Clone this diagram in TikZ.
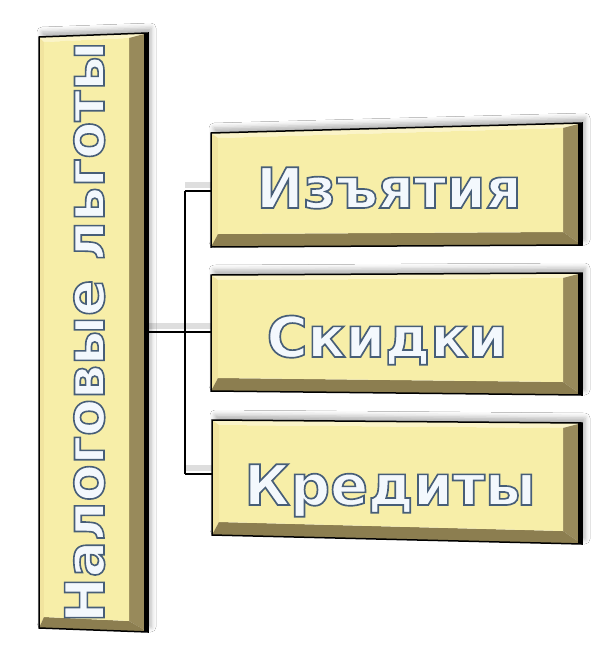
\documentclass[tikz,border=0pt]{standalone}
\usepackage{fontspec}
\setmainfont{DejaVu Sans}
\newfontfamily\olfont[FakeBold=3]{DejaVu Sans Bold}
\usetikzlibrary{calc,shadows.blur}
\definecolor{face}{HTML}{F7EEA8}
\definecolor{bevtop}{HTML}{FBF4C8}
\definecolor{bevleft}{HTML}{F1E49F}
\definecolor{bevright}{HTML}{988A5B}
\definecolor{bevbot}{HTML}{8C7E50}
\definecolor{txtfill}{HTML}{F3F8FD}
\newcommand\olstroke{\special{pdf:literal direct 0.28 0.37 0.47 RG}}
\tikzset{
  lbl/.style={inner sep=0pt, text=txtfill, font=\olfont\fontsize{56}{60}\selectfont},
  conn/.style={line width=1.8pt, black},
  connshadow/.style={line width=6pt, black!25, opacity=0.5},
  boxshadow/.style={blur shadow={shadow xshift=3pt, shadow yshift=5pt, shadow blur radius=5pt, shadow opacity=30}},
}
\newcommand\bevbox[9]{%
  \coordinate (#1-tl) at (#2); \coordinate (#1-tr) at (#3);
  \coordinate (#1-br) at (#4); \coordinate (#1-bl) at (#5);
  \coordinate (#1-itl) at ($(#1-tl)+(#6,#7)$);
  \coordinate (#1-itr) at ($(#1-tr)+(-#8,#7)$);
  \coordinate (#1-ibr) at ($(#1-br)+(-#8,-#9)$);
  \coordinate (#1-ibl) at ($(#1-bl)+(#6,-#9)$);
  \fill[white, boxshadow] (#1-tl)--(#1-tr)--(#1-br)--(#1-bl)--cycle;
  \fill[bevtop] (#1-tl)--(#1-tr)--(#1-itr)--(#1-itl)--cycle;
  \fill[bevleft] (#1-tl)--(#1-itl)--(#1-ibl)--(#1-bl)--cycle;
  \fill[bevright] (#1-tr)--(#1-br)--(#1-ibr)--(#1-itr)--cycle;
  \fill[bevbot] (#1-bl)--(#1-ibl)--(#1-ibr)--(#1-br)--cycle;
  \fill[face] (#1-itl)--(#1-itr)--(#1-ibr)--(#1-ibl)--cycle;
  \fill[black] (#1-tr)--(#1-br)--($(#1-br)+(-4,0)$)--($(#1-tr)+(-4,0)$)--cycle;
  \draw[black, line width=1.5pt, line join=miter] (#1-tl)--(#1-tr)--(#1-br)--(#1-bl)--cycle;
}
\begin{document}
\begin{tikzpicture}[x=1pt,y=-1pt]
\fill[white] (0,0) rectangle (614,672);
\useasboundingbox (0,0) rectangle (614,672);
% connector points
\coordinate (L-out) at (148,332);
\coordinate (B-in) at (211,332);
\coordinate (jtop) at (185,191);
\coordinate (jbot) at (185,474);
\coordinate (A-in) at (211,191);
\coordinate (C-in) at (212,474);
\draw[connshadow] ($(L-out)+(0,-6)$) -- ($(B-in)+(0,-6)$);
\draw[connshadow] ($(jtop)+(0,-6)$) -- ($(A-in)+(0,-6)$);
\draw[connshadow] ($(jbot)+(0,-6)$) -- ($(C-in)+(0,-6)$);
\draw[conn] (L-out) -- (B-in);
\draw[conn] (jtop) -- (jbot);
\draw[conn] (jtop) -- (A-in);
\draw[conn] (jbot) -- (C-in);
% boxes
\bevbox{L}{39,37}{148,33}{148,632}{39,628}{5}{5}{19}{11}
\bevbox{A}{211,133}{582,123}{582,245}{211,247}{7}{5}{19}{13}
\bevbox{B}{211,275}{582,273}{582,395}{211,391}{7}{5}{19}{13}
\bevbox{C}{212,420}{582,423}{582,544}{212,535}{7}{5}{19}{13}
% labels
\node[lbl, anchor=base] (tA) at (389,208) {\olstroke Изъятия};
\node[lbl, anchor=base] (tB) at (387,357) {\olstroke Скидки};
\node[lbl, anchor=base] (tC) at (390,505) {\olstroke Кредиты};
\node[lbl, anchor=base, rotate=90, font=\olfont\fontsize{54}{58}\selectfont] (tL) at (104,332) {\olstroke Налоговые льготы};
\end{tikzpicture}
\end{document}
